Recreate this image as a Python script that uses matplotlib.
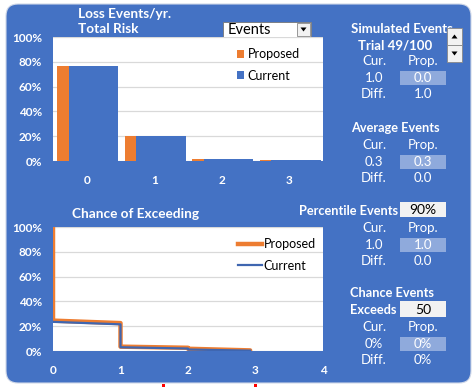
import matplotlib
matplotlib.use("Agg")
import matplotlib.pyplot as plt
from matplotlib.patches import FancyBboxPatch, Rectangle, Polygon

plt.rcParams['font.family'] = ['Lato', 'DejaVu Sans']

# ---------------- data ----------------
cats = [0, 1, 2, 3]
cat_labels = ['0', '1', '2', '3']
proposed_pct = [0.77, 0.20, 0.02, 0.008]
current_pct = [0.77, 0.20, 0.019, 0.006]

# exceedance curves
prop_x = [0, 0, 1, 1, 2, 2, 2.92, 2.92]
prop_y = [1.0, 0.245, 0.225, 0.035, 0.026, 0.018, 0.005, 0.0]
cur_x = [0, 1, 1, 2, 2, 2.92]
cur_y = [0.235, 0.215, 0.03, 0.02, 0.012, 0.003]

pct_ticks = [0, 0.2, 0.4, 0.6, 0.8, 1.0]
pct_labels = ['0%', '20%', '40%', '60%', '80%', '100%']

# right-hand panel figures: (cur, prop, diff)
sim_vals = ('1.0', '0.0', '1.0')
avg_vals = ('0.3', '0.3', '0.0')
pctl_vals = ('1.0', '1.0', '0.0')
chance_vals = ('0%', '0%', '0%')

ORANGE = '#ED7D31'
BLUE = '#4472C4'
LIGHT = '#8FAADC'
GRID = '#D9D9D9'
W, H = 474, 387
HEAD = 9.2

fig = plt.figure(figsize=(W / 100, H / 100), dpi=100)
fig.patch.set_facecolor('white')

# background axes in pixel coordinates
bg = fig.add_axes([0, 0, 1, 1])
bg.set_xlim(0, W)
bg.set_ylim(H, 0)
bg.axis('off')
bg.add_patch(FancyBboxPatch((6, 4), 465, 379, boxstyle='round,pad=0,rounding_size=12',
                            fc=BLUE, ec='#d0d8e8', lw=0.8))


def txt(x, y, s, ha='center', weight='bold', size=9, color='white'):
    bg.text(x, y, s, ha=ha, va='center', fontsize=size, fontweight=weight, color=color)


def px_axes(x0, y0, x1, y1):
    return fig.add_axes([x0 / W, 1 - y1 / H, (x1 - x0) / W, (y1 - y0) / H])


def style_axes(ax):
    ax.set_facecolor('white')
    for s in ax.spines.values():
        s.set_visible(False)
    ax.set_ylim(0, 1)
    ax.set_yticks(pct_ticks)
    ax.set_yticklabels(pct_labels)
    ax.yaxis.grid(True, color=GRID, lw=0.9)
    ax.set_axisbelow(True)
    ax.tick_params(length=0, colors='white', labelsize=8.5, pad=8)
    ax.tick_params(axis='x', pad=10)
    for lab in ax.get_xticklabels() + ax.get_yticklabels():
        lab.set_fontweight('bold')


# ---------------- top chart ----------------
ax1 = px_axes(53, 37, 323, 161)
bw = 0.726
ax1.bar([c - 0.077 for c in cats], proposed_pct, width=bw, color=ORANGE, label='Proposed', zorder=2)
ax1.bar([c + 0.10 for c in cats], current_pct, width=bw, color=BLUE, label='Current', zorder=3)
ax1.set_xlim(-0.5, 3.5)
ax1.set_xticks(cats)
ax1.set_xticklabels(cat_labels)
style_axes(ax1)
ax1.legend(loc='upper left', bbox_to_anchor=(0.68, 0.91), frameon=False, fontsize=9,
           handlelength=0.6, handleheight=0.6, handletextpad=0.3, labelspacing=0.75,
           borderpad=0, borderaxespad=0)

txt(78, 14, 'Loss Events/yr.', ha='left', size=9.8)
txt(78, 29, 'Total Risk', ha='left', size=9.8)

# dropdown
bg.add_patch(Rectangle((223, 22), 88, 15, fc='white', ec='#777777', lw=0.6, zorder=5))
bg.add_patch(Rectangle((297, 23), 13, 13, fc='#f2f2f2', ec='#888888', lw=0.6, zorder=6))
bg.add_patch(Polygon([(300.5, 27.5), (306.5, 27.5), (303.5, 31.5)], fc='black', zorder=7))
bg.text(228, 29.5, 'Events', ha='left', va='center', fontsize=10.5, color='black', zorder=7)

# ---------------- bottom chart ----------------
ax2 = px_axes(53, 227, 323, 351)
ax2.plot(prop_x, prop_y, color=ORANGE, lw=3.2, label='Proposed', zorder=3)
ax2.plot(cur_x, cur_y, color='#3F66B0', lw=1.6, label='Current', zorder=4)
ax2.set_xlim(0, 4)
ax2.set_xticks([0, 1, 2, 3, 4])
style_axes(ax2)
ax2.legend(loc='upper left', bbox_to_anchor=(0.685, 0.91), frameon=False, fontsize=9,
           handlelength=1.9, handletextpad=0.15, labelspacing=0.75,
           borderpad=0, borderaxespad=0)

txt(72, 214, 'Chance of Exceeding', ha='left', size=9.8)

# ---------------- right panel ----------------
CX, PX = 374, 423


def block(y0, vals):
    cur, prop, diff = vals
    txt(CX, y0, 'Cur.', weight='normal', size=9.5)
    txt(PX, y0, 'Prop.', weight='normal', size=9.5)
    bg.add_patch(Rectangle((400, y0 + 10), 46, 14, fc=LIGHT, ec='none'))
    txt(CX, y0 + 17, cur, weight='normal', size=9.5)
    txt(PX, y0 + 17, prop, weight='normal', size=9.5)
    txt(CX, y0 + 33, 'Diff.', weight='normal', size=9.5)
    txt(PX, y0 + 33, diff, weight='normal', size=9.5)


txt(402, 29, 'Simulated Events', size=9.5)
txt(395, 45, 'Trial 49/100', size=9.5)
block(61, sim_vals)

txt(395, 128, 'Average Events', size=HEAD)
block(145, avg_vals)

txt(398, 211, 'Percentile Events', ha='right', size=HEAD)
bg.add_patch(Rectangle((400, 202), 46, 15, fc='#f2f2f2', ec='none'))
txt(PX, 210, '90%', weight='normal', size=10, color='black')
block(228, pctl_vals)

txt(392, 293, 'Chance Events', size=HEAD)
txt(397, 310, 'Exceeds', ha='right', size=HEAD)
bg.add_patch(Rectangle((400, 301), 46, 16, fc='#f2f2f2', ec='none'))
txt(PX, 309.5, '50', weight='normal', size=10, color='black')
block(327, chance_vals)

# spinner
for y0, up in ((28, True), (45, False)):
    bg.add_patch(Rectangle((447, y0), 15, 17, fc='#f2f2f2', ec='#888888', lw=0.6, zorder=6))
    if up:
        tri = [(451.5, y0 + 10.5), (457.5, y0 + 10.5), (454.5, y0 + 6.5)]
    else:
        tri = [(451.5, y0 + 6.5), (457.5, y0 + 6.5), (454.5, y0 + 10.5)]
    bg.add_patch(Polygon(tri, fc='black', zorder=7))

# red marks below the panel
for x in (162, 254):
    bg.add_patch(Rectangle((x, 384), 3, 3, fc='red', ec='none'))

fig.savefig('out.png', dpi=100, facecolor='white')
